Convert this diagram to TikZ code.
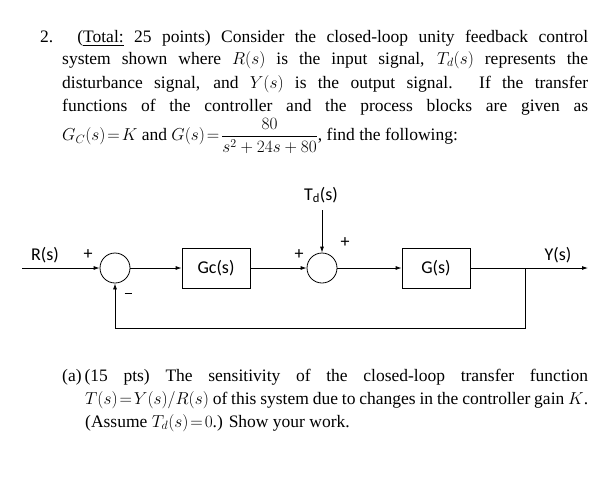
\documentclass[tikz,border=0pt]{standalone}
\usepackage{amsmath}
\usepackage{fontspec}
\setmainfont{Liberation Serif}
\newfontfamily\lab{Carlito}
\usetikzlibrary{arrows.meta}
\tikzset{x=1pt,y=-1pt,
 blk/.style={draw,thick,minimum width=68pt,minimum height=40pt,font=\lab\fontsize{18}{20}\selectfont},
 sj/.style={draw,thick,circle,minimum size=30pt,inner sep=0pt},
 sig/.style={thick,-{Latex[length=6pt,width=4pt]}},
 ln/.style={anchor=west,inner sep=0pt,font=\fontsize{17.5}{20}\selectfont},
 lb/.style={font=\lab\fontsize{18}{20}\selectfont,inner sep=1pt}}
\begin{document}
\begin{tikzpicture}
\useasboundingbox (0,0) rectangle (612,499);
\node[ln] (l1) at (40,38) {\makebox[548pt][s]{2. (\underline{Total:} 25 points) Consider the closed-loop unity feedback control}};
\node[ln] (l2) at (62,60) {\makebox[526pt][s]{system shown where $R(s)$ is the input signal, $T_d(s)$ represents the}};
\node[ln] (l3) at (62,84) {\makebox[526pt][s]{disturbance signal, and $Y(s)$ is the output signal. If the transfer}};
\node[ln] (l4) at (62,107) {\makebox[526pt][s]{functions of the controller and the process blocks are given as}};
\node[ln] (l5) at (62,136) {$G_C(s)\!=\!K$ and $G(s)\!=\!\dfrac{80}{s^2+24s+80}$, find the following:};
\node[lb] (td) at (321,195) {T\textsubscript{d}(s)};
\node[lb] (rs) at (45,255) {R(s)};
\node[lb] (ys) at (558,255) {Y(s)};
\node[sj] (s1) at (115,268) {};
\node[sj] (s2) at (322,268) {};
\node[blk] (gc) at (216,268) {Gc(s)};
\node[blk] (g) at (436,268) {G(s)};
\node[lb] at (88,255) {+};
\node[lb] at (128,296) {\rule[0.5ex]{7pt}{1pt}};
\node[lb] at (299,255) {+};
\node[lb] at (345,243) {+};
\coordinate (in) at (22,268);
\coordinate (out) at (588,268);
\coordinate (tp) at (525,268);
\coordinate (tdt) at (322,210);
\draw[sig] (in) -- (s1);
\draw[sig] (s1) -- (gc);
\draw[sig] (gc) -- (s2);
\draw[sig] (s2) -- (g);
\draw[sig] (g) -- (out);
\draw[sig] (tdt) -- (s2);
\draw[sig] (tp) -- (525,328) -- (115,328) -- (s1);
\node[ln] (a1) at (62,377) {\makebox[526pt][s]{(a)\,(15 pts) The sensitivity of the closed-loop transfer function}};
\node[ln] (a2) at (85,400) {\makebox[503pt][s]{$T(s)\!=\!Y(s)/R(s)$ of this system due to changes in the controller gain $K$.}};
\node[ln] (a3) at (85,423) {(Assume $T_d(s)\!=\!0$.) Show your work.};
\end{tikzpicture}
\end{document}
